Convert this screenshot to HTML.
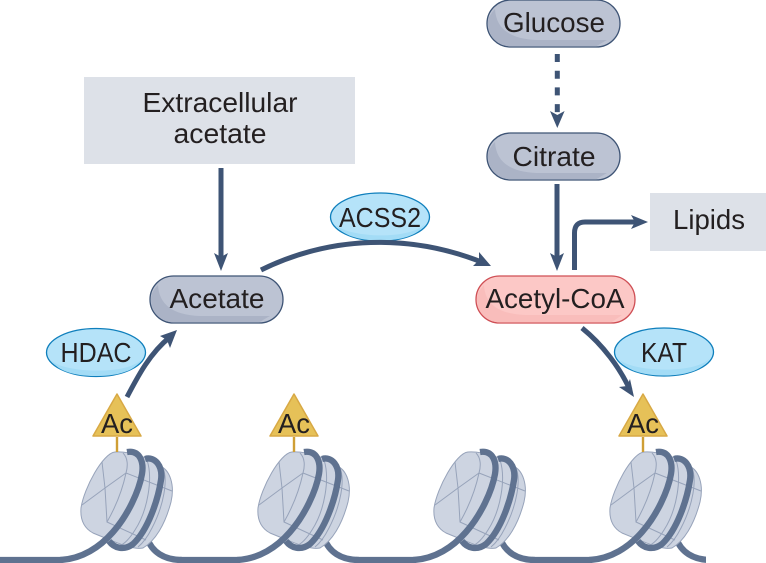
<!DOCTYPE html>
<html><head><meta charset="utf-8"><style>
html,body{margin:0;padding:0;background:#fff;width:766px;height:563px;overflow:hidden}
svg{display:block}
text{font-family:"Liberation Sans",sans-serif;font-size:27.5px;fill:#231f20;text-anchor:middle}
.a{fill:none;stroke:#3e5475;stroke-width:5}
.h{fill:#3e5475}
.g{fill:#bcc3d3;stroke:#3e5475;stroke-width:1.3}
.gs{fill:#abb3c6}
.e{fill:#b5e3f9;stroke:#0f7fbc;stroke-width:1.3}
.es{fill:#a3dcf6}
.nl{fill:none;stroke:#97a3ba;stroke-width:1}
.nf{fill:#cdd4e1;stroke:#97a3ba;stroke-width:1}
.d{fill:none;stroke:#5f7290;stroke-width:6.3;stroke-linecap:butt}
</style></head><body>
<svg width="766" height="563" viewBox="0 0 766 563" xmlns="http://www.w3.org/2000/svg">
<defs>
<g id="nuc">
  <path class="d" d="M147,538 C152,552 164,560 182,560"/>
  <path class="nf" d="M115,452 C130,451 150,458 160,466 C170,470 175,485 171,502 C165,525 155,541 143,548 C133,550 118,543 110,540 L93,533 C84,528 80,520 81,508 C84,488 103,453 115,452 Z"/>
  <path class="nl" d="M123,453 C128,458 128,466 126,473 C122,492 115,508 107,522"/>
  <path class="nl" d="M126,473 L105,488 L82,505"/>
  <path class="nl" d="M102,462 L105,488 L107,522 L146,540"/>
  <path class="nl" d="M126,473 L172,491"/>
  <path class="nl" d="M147,460 C153,478 148,510 135,530 C130,538 125,544 119,546"/>
  <path class="nl" d="M163,468 C168,480 164,505 152,528 C148,536 143,543 138,547"/>
  <path class="d" d="M145,459 C155,456 163,466 161,480 C158,500 148,530 133,544 C124,551 114,548 109,541"/>
  <path class="d" d="M127,452 C140,450 144,462 142,474 C139,491 128,515 113,532 C100,547 82,559 60,560"/>
</g>
<g id="ac">
  <path d="M0,394 L24,436 L-24,436 Z" fill="#e6c158" stroke="#d8a945" stroke-width="1.5" stroke-linejoin="round"/>
  <rect x="-1.2" y="437" width="2.4" height="15" fill="#cf9f35"/>
  <text x="0" y="433" textLength="32" lengthAdjust="spacingAndGlyphs">Ac</text>
</g>
</defs>

<!-- baseline DNA -->
<path class="d" d="M0,560 H62"/>
<path class="d" d="M180,560 H240"/>
<path class="d" d="M356,560 H416"/>
<path class="d" d="M532,560 H592"/>
<use href="#nuc"/>
<use href="#nuc" x="177"/>
<use href="#nuc" x="353"/>
<use href="#nuc" x="529"/>
<rect x="706" y="550" width="60" height="13" fill="#fff"/>

<use href="#ac" x="117"/>
<use href="#ac" x="294"/>
<use href="#ac" x="643"/>

<!-- grey boxes -->
<rect x="84" y="77" width="271" height="87" fill="#dde1e8"/>
<text x="220" y="112" textLength="155" lengthAdjust="spacingAndGlyphs">Extracellular</text>
<text x="220" y="143" textLength="93" lengthAdjust="spacingAndGlyphs">acetate</text>
<rect x="650" y="193" width="116" height="58" fill="#dde1e8"/>
<text x="709" y="229" textLength="72" lengthAdjust="spacingAndGlyphs">Lipids</text>

<!-- pills -->
<g transform="translate(487,0)"><rect x="0" y="0" width="133" height="47" rx="23.5" class="g"/><path class="gs" d="M8,9 C9,28 22,39 50,40 H120 C113,44 109,46.4 109,46.4 H24 C10,46 1,36 1,23 C1,18 4,13 8,9 Z"/></g>
<text x="554" y="32" textLength="102" lengthAdjust="spacingAndGlyphs">Glucose</text>
<g transform="translate(487,133)"><rect x="0" y="0" width="133" height="47" rx="23.5" class="g"/><path class="gs" d="M8,9 C9,28 22,39 50,40 H120 C113,44 109,46.4 109,46.4 H24 C10,46 1,36 1,23 C1,18 4,13 8,9 Z"/></g>
<text x="554" y="166" textLength="83" lengthAdjust="spacingAndGlyphs">Citrate</text>
<g transform="translate(150,276)"><rect x="0" y="0" width="133" height="47" rx="23.5" class="g"/><path class="gs" d="M8,9 C9,28 22,39 50,40 H120 C113,44 109,46.4 109,46.4 H24 C10,46 1,36 1,23 C1,18 4,13 8,9 Z"/></g>
<text x="217" y="308" textLength="95" lengthAdjust="spacingAndGlyphs">Acetate</text>
<g transform="translate(476,276)"><rect x="0" y="0" width="159" height="47" rx="23.5" fill="#fcc8c6" stroke="#cf4f55" stroke-width="1.3"/><path fill="#f9bdbb" d="M8,9 C9,28 22,38 50,39 H146 C139,44 135,46.4 135,46.4 H24 C10,46 1,36 1,23 C1,18 4,13 8,9 Z"/></g>
<text x="555" y="308" textLength="139" lengthAdjust="spacingAndGlyphs">Acetyl-CoA</text>

<!-- ellipses -->
<ellipse cx="380" cy="217" rx="49.5" ry="24" class="e"/>
<path class="es" d="M336,225 C350,238 410,240 425,224 C418,236 400,240.5 380,240.5 C358,240.5 342,235 336,225 Z"/>
<text x="380" y="227" textLength="82" lengthAdjust="spacingAndGlyphs">ACSS2</text>
<ellipse cx="96" cy="352.5" rx="49.5" ry="24" class="e"/>
<path class="es" d="M52,361 C66,373 126,375 141,360 C134,372 116,376 96,376 C74,376 58,371 52,361 Z"/>
<text x="96" y="362" textLength="71" lengthAdjust="spacingAndGlyphs">HDAC</text>
<ellipse cx="664" cy="352" rx="49.5" ry="24" class="e"/>
<path class="es" d="M620,360 C634,372 694,374 709,359 C702,371 684,375.5 664,375.5 C642,375.5 626,370 620,360 Z"/>
<text x="664" y="362" textLength="46" lengthAdjust="spacingAndGlyphs">KAT</text>

<!-- arrows -->
<path class="a" d="M221,168 V262"/>
<path class="h" d="M221,271 L214,253 L221,257 L228,253 Z"/>
<path class="a" d="M557.3,54 V116" stroke-dasharray="8 8.7"/>
<path class="h" d="M557.3,128 L550,111 L557.3,115 L564.6,111 Z"/>
<path class="a" d="M557,184 V262"/>
<path class="h" d="M557,271 L550,253 L557,257 L564,253 Z"/>
<path class="a" d="M574.5,270 V233 Q574.5,222 585,222 H642"/>
<path class="h" d="M648,222 L631,215 L635,222 L631,229 Z"/>
<path class="a" d="M261,270 C330,236 410,233 484,263"/>
<path class="h" d="M491,266 L479,252 L479,260 L473,266 Z"/>
<path class="a" d="M127,397 C138,376 150,353 170,337"/>
<path class="h" d="M177,330 L160,336 L167,340 L170,348 Z"/>
<path class="a" d="M582,328 C603,345 620,368 630,390"/>
<path class="h" d="M634,397 L619,387 L627,386 L630,379 Z"/>
</svg>
</body></html>
